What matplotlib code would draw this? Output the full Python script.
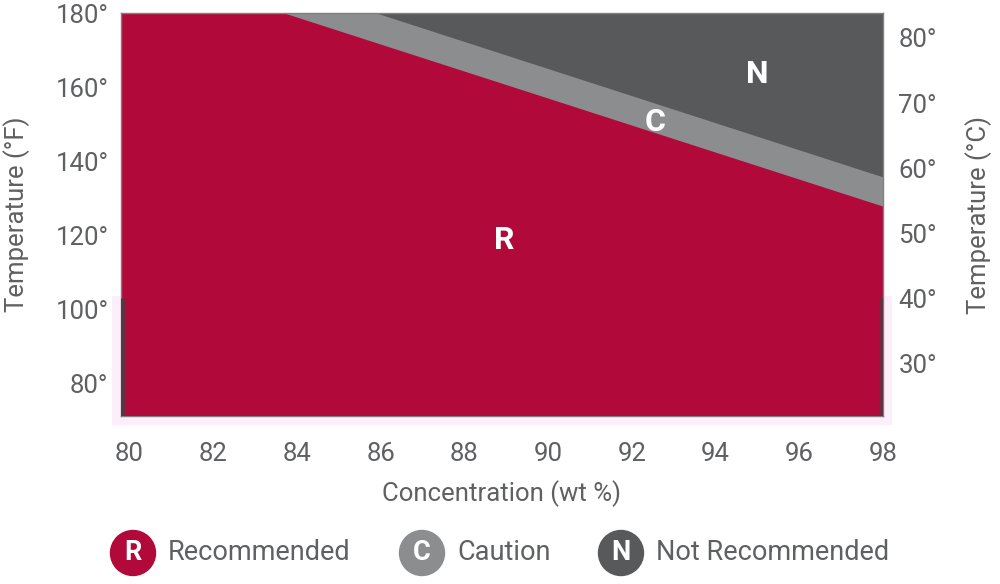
import matplotlib
matplotlib.use("Agg")
import matplotlib.pyplot as plt
from matplotlib.patches import Ellipse, Rectangle

# boundary lines (concentration wt %, temperature °F)
red_x = [79.8, 83.7, 98]
red_top_f = [180, 180, 127.8]
caution_x = [79.8, 85.9, 98]
caution_top_f = [180, 180, 135.7]

x_ticks = [80, 82, 84, 86, 88, 90, 92, 94, 96, 98]
f_ticks = [80, 100, 120, 140, 160, 180]
c_ticks = [30, 40, 50, 60, 70, 80]

zone_labels = ["R", "C", "N"]
zone_pos = [(88.95, 118.6), (92.55, 150.5), (95.0, 163.5)]
legend_names = ["Recommended", "Caution", "Not Recommended"]

RED = "#B0093A"
LIGHT = "#8C8D8F"
DARK = "#58595B"
TXT = "#5F6062"
FS = 18.5

plt.rcParams['font.family'] = ['Roboto', 'DejaVu Sans']

fig = plt.figure(figsize=(10, 5.84), dpi=100)

# faint pink halo round the lower part of the plot
fig.add_artist(Rectangle((0.112, 1 - 425 / 584), 0.78, 129 / 584,
                         transform=fig.transFigure, color="#fdeefb", lw=0, zorder=0))

ax = fig.add_axes([0.121, 0.2877, 0.762, 0.69])
ax.set_facecolor(DARK)
ax.set_xlim(79.8, 98)
ax.set_ylim(71.1, 180)

ax.fill_between(caution_x, 71.1, caution_top_f, color=LIGHT, lw=0)
ax.fill_between(red_x, 71.1, red_top_f, color=RED, lw=0)

# dark edge at the bottom corners
edge = "#5e3442"
ax.plot([79.8, 79.8], [71.1, 103], color=edge, lw=5, solid_capstyle='butt', zorder=3)
ax.plot([98, 98], [71.1, 103], color=edge, lw=4, solid_capstyle='butt', zorder=3)
ax.plot([79.8, 98], [71.1, 71.1], color=edge, lw=2, zorder=3)

for lab, (px, py) in zip(zone_labels, zone_pos):
    ax.text(px, py, lab, color="white", fontsize=23, fontweight="bold",
            ha="center", va="center")

for s in ax.spines.values():
    s.set_color("#808080")
    s.set_linewidth(1)

ax.set_xticks(x_ticks)
ax.set_xticklabels([str(v) for v in x_ticks])
ax.set_yticks(f_ticks)
ax.set_yticklabels([f"{v}°" for v in f_ticks])
ax.tick_params(length=0, labelsize=FS, colors=TXT, pad=9)
ax.tick_params(axis='x', pad=19)
ax.set_xlabel("Concentration (wt %)", fontsize=FS, color=TXT, labelpad=10)
ax.set_ylabel("Temperature (°F)", fontsize=FS, color=TXT, labelpad=18)

ax2 = ax.twinx()
ax2.set_ylim(22.0, 83.8)
ax2.set_yticks(c_ticks)
ax2.set_yticklabels([f"{v}°" for v in c_ticks])
ax2.tick_params(length=0, labelsize=FS, colors=TXT, pad=11)
ax2.set_ylabel("Temperature (°C)", fontsize=FS, color=TXT, labelpad=20)
for s in ax2.spines.values():
    s.set_visible(False)

# legend drawn by hand
leg_colors = [RED, LIGHT, DARK]
leg_x = [0.133, 0.422, 0.621]
leg_y = 1 - 553 / 584
for lab, name, col, lx in zip(zone_labels, legend_names, leg_colors, leg_x):
    fig.add_artist(Ellipse((lx, leg_y), 0.045, 0.045 * 1000 / 584,
                           transform=fig.transFigure, color=col))
    fig.text(lx, leg_y, lab, color="white", fontsize=19.5, fontweight="bold",
             ha="center", va="center")
    fig.text(lx + 0.035, leg_y, name, color=TXT, fontsize=19.5,
             ha="left", va="center")

fig.savefig("out.png", dpi=100)
